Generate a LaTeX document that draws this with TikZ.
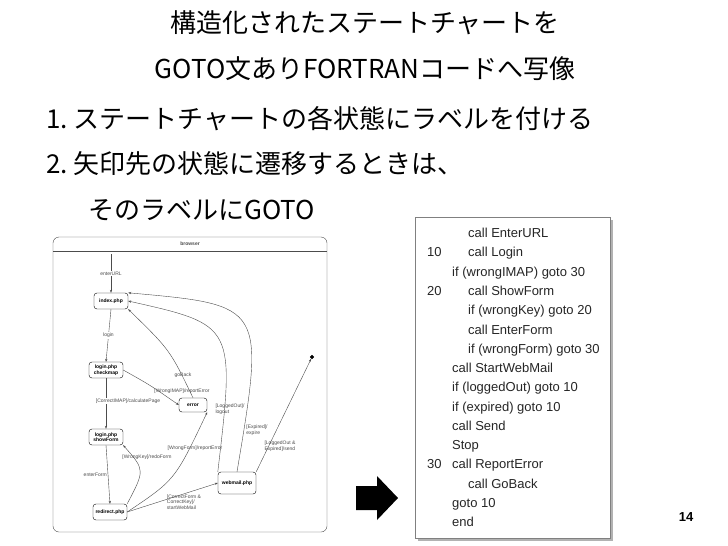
\documentclass[tikz,border=0pt]{standalone}
\usepackage{fontspec}
\setmainfont{Liberation Sans}
\newfontfamily\jp{Noto Sans CJK JP}
\usetikzlibrary{arrows.meta}
\begin{document}
\begin{tikzpicture}[x=1pt,y=-1pt,
 st/.style={draw,rounded corners=3pt,font=\fontsize{5}{5.5}\selectfont\bfseries,align=center,inner sep=2pt,minimum width=34pt,minimum height=16pt},
 tr/.style={draw=black!70,-{Stealth[length=3pt]},line width=0.4pt},
 lb/.style={font=\fontsize{5}{5.5}\selectfont,text=black!70,align=left,inner sep=1pt},
 code/.style={anchor=base west,font=\fontsize{13}{14}\selectfont,text=black!85,inner sep=0pt},
 jt/.style={font=\jp\fontsize{26}{28}\selectfont,inner sep=0pt}]
\useasboundingbox (0,0) rectangle (728,546);
\fill[white] (0,0) rectangle (728,546);
% title
\node[jt,anchor=center] (t1) at (365,23) {構造化されたステートチャートを};
\node[jt,anchor=center] (t2) at (365,69) {GOTO文ありFORTRANコードへ写像};
\node[jt,anchor=west] (l1) at (46,119) {1.\ ステートチャートの各状態にラベルを付ける};
\node[jt,anchor=west] (l2) at (46,164) {2.\ 矢印先の状態に遷移するときは、};
\node[jt,anchor=west] (l3) at (88,210) {そのラベルにGOTO};
% statechart
\draw[black!70,rounded corners=6pt] (53,237) rectangle (327,532);
\draw[black!70] (53,251) -- (327,251);
\node[lb,font=\fontsize{5}{5.5}\selectfont\bfseries] (br) at (190,244) {browser};
\node[st] (idx) at (111,301) {index.php};
\node[st] (chk) at (106,370) {login.php\\checkmap};
\node[st,minimum width=28pt,minimum height=14pt] (err) at (193,405) {error};
\node[st] (sf) at (106,437) {login.php\\showForm};
\node[st] (red) at (110,512) {redirect.php};
\node[st,minimum width=38pt,minimum height=22pt] (wm) at (237,483) {webmail.php};
\node[circle,draw,fill=black,inner sep=1.3pt] (fin) at (312,357) {};
\coordinate (ini) at (111,254);
\draw[tr] (ini) -- node[lb,fill=white] {enterURL} (idx);
\draw[tr] (idx.south) -- node[lb,fill=white] {login} (chk.north);
\draw[tr] (chk) -- node[lb,fill=white,pos=0.45,xshift=22pt] {[CorrectIMAP]/calculatePage} (sf);
\draw[tr] (chk.east) .. controls (150,385) .. (err.west);
\node[lb] (wl) at (182,391) {[WrongIMAP]/reportError};
\draw[tr] (err.north) .. controls (170,350) .. (idx.south east);
\node[lb] (gb) at (183,375) {goBack};
\draw[tr] (sf.south) -- node[lb,left,pos=0.5] {enterForm} (red.north);
\draw[tr] (red.north east) .. controls (145,470) .. (sf.south east);
\node[lb] (wk) at (147,457) {[WrongKey]/redoForm};
\draw[tr] (red.east) .. controls (175,480) .. (err.south east);
\node[lb] (wf) at (195,448) {[WrongForm]/reportError};
\draw[tr] (red.east) -- (wm.west);
\node[lb] (cf) at (184,502) {[CorrectForm \&\\CorrectKey]/\\startWebMail};
\draw[tr] (wm.north west) .. controls (235,325) .. (idx.east);
\node[lb] (lo) at (230,409) {[LoggedOut]/\\logout};
\draw[tr] (wm.north) .. controls (265,305) .. (idx.north east);
\node[lb] (ex) at (257,430) {[Expired]/\\expire};
\draw[tr] (wm.north east) -- (fin);
\node[lb] (ls) at (280,446) {[LoggedOut \&\\Expired]/send};
% block arrow
\fill (356,486) -- (377,486) -- (377,476) -- (398,498) -- (377,520) -- (377,510) -- (356,510) -- cycle;
% code box
\fill[black!30] (418,220) rectangle (613,541);
\draw[black!50,fill=white] (415,217) rectangle (610,538);
\begin{scope}
\clip (415,217) rectangle (609,538);
\foreach \y/\x/\t in {237/468/call EnterURL,256/468/call Login,276/452/if (wrongIMAP) goto 30,295/468/call ShowForm,314/468/if (wrongKey) goto 20,334/468/call EnterForm,353/468/if (wrongForm) goto 30,372/452/call StartWebMail,391/452/if (loggedOut) goto 10,411/452/if (expired) goto 10,430/452/call Send,449/452/Stop,468/452/call ReportError,488/468/call GoBack,507/452/goto 10,526/452/end}
  \node[code] at (\x,\y) {\t};
\end{scope}
\node[code] (n10) at (427,256) {10};
\node[code] (n20) at (427,295) {20};
\node[code] (n30) at (427,468) {30};
\node[font=\fontsize{13}{14}\selectfont\bfseries] (pg) at (686,517) {14};
\end{tikzpicture}
\end{document}
